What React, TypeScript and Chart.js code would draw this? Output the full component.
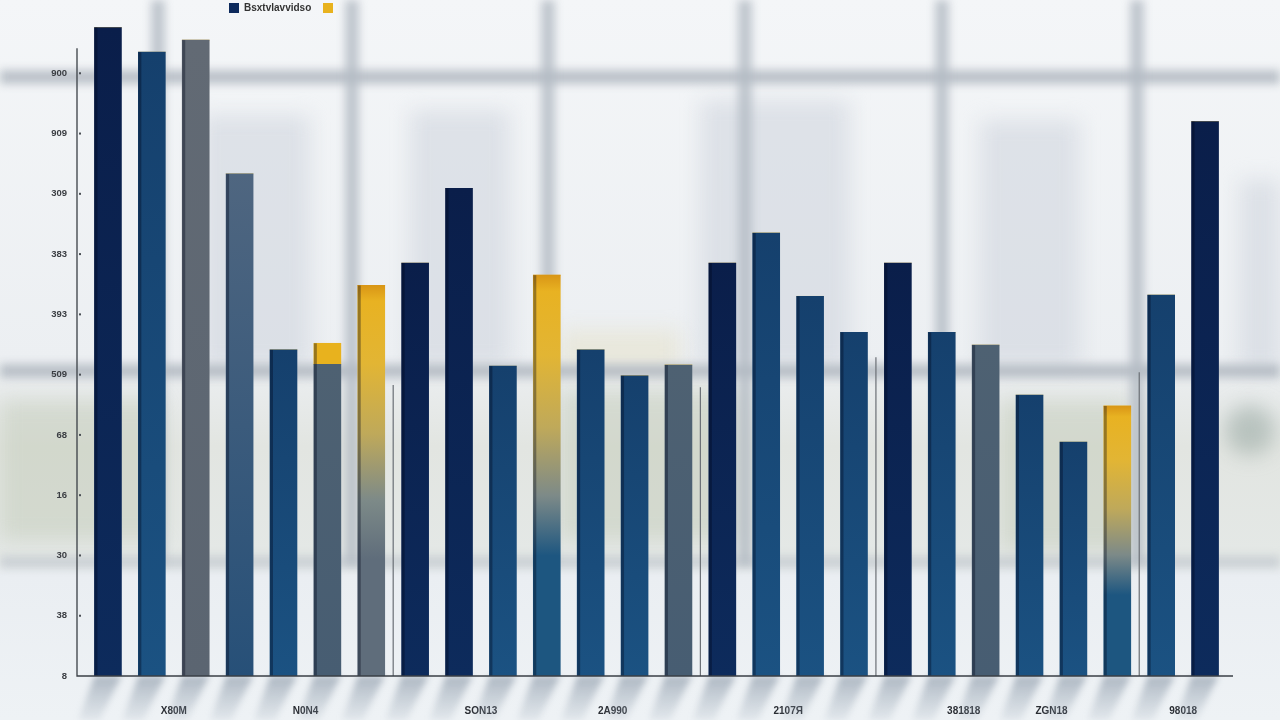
import React, { useEffect, useRef } from 'react';
import { Chart, registerables } from 'chart.js';

Chart.register(...registerables);

// ---------- data ----------
const xLabels = ['', 'X80M', '', '', 'N0N4', '', '', '', 'SON13', '', '', '2A990', '', '', '', '2107Я', '', '', '', '381818', '', 'ZGN18', '', '', '98018', ''];
const mainValues = [1076, 1035, 1055, 833, 541, 517, 648, 685, 809, 514, 665, 541, 498, 516, 685, 735, 630, 570, 685, 570, 549, 466, 388, 448, 632, 920];
const capValues = [0, 0, 0, 0, 0, 35, 0, 0, 0, 0, 0, 0, 0, 0, 0, 0, 0, 0, 0, 0, 0, 0, 0, 0, 0, 0];
const barKinds = ['navy', 'blue', 'gray', 'slate', 'blue', 'grayblue', 'goldGray', 'navy', 'navy', 'blue', 'goldBlue', 'blue', 'blue', 'grayblue', 'navy', 'blue', 'blue', 'blue', 'navy', 'blue', 'grayblue', 'blue', 'blue', 'goldBlue', 'blue', 'navy'];
const yTickLabels = ['8', '38', '30', '16', '68', '509', '393', '383', '309', '909', '900'];
const groupSizes = [7, 7, 4, 6, 2];
const dividerValues = [483, 479, 529, 504];
const legendLabels = ['Bsxtvlavvidso', ''];
const legendColors = ['#0d2a5c', '#e8b21e'];

// ---------- styles ----------
const kindColors: Record<string, [string, string]> = {
  navy: ['#0a1e4a', '#0d2b5c'],
  blue: ['#15406d', '#1b5282'],
  gray: ['#626a74', '#5b6571'],
  slate: ['#4f6680', '#275078'],
  grayblue: ['#4e6172', '#475d72'],
  goldGray: ['#e6b026', '#5f6d7b'],
  goldBlue: ['#e6b026', '#1d5680'],
};

const FONT = '"Liberation Sans", "DejaVu Sans", sans-serif';

function barColor(ctx: any) {
  const i = ctx.dataIndex;
  const kind = barKinds[i];
  const [c1, c2] = kindColors[kind];
  const chart = ctx.chart;
  const ys = chart.scales && chart.scales.y;
  if (!chart.chartArea || !ys) return c2;
  const top = ys.getPixelForValue(mainValues[i]);
  const bottom = ys.getPixelForValue(0);
  const g = chart.ctx.createLinearGradient(0, top, 0, bottom);
  if (kind.startsWith('gold')) {
    g.addColorStop(0, '#d99616');
    g.addColorStop(0.04, '#e8b222');
    g.addColorStop(0.2, '#e2b534');
    g.addColorStop(0.38, '#bfa95a');
    g.addColorStop(0.55, '#7d8a88');
    g.addColorStop(0.7, c2);
    g.addColorStop(1, c2);
  } else {
    g.addColorStop(0, c1);
    g.addColorStop(1, c2);
  }
  return g;
}

const backgroundPlugin = {
  id: 'officeBackground',
  beforeDraw(chart: any) {
    const { ctx, width, height } = chart;
    ctx.save();
    const base = ctx.createLinearGradient(0, 0, 0, height);
    base.addColorStop(0, '#f4f6f8');
    base.addColorStop(0.5, '#eceff2');
    base.addColorStop(0.62, '#e2e5e1');
    base.addColorStop(0.77, '#e4e8e6');
    base.addColorStop(0.8, '#eaeef2');
    base.addColorStop(1, '#eef2f5');
    ctx.fillStyle = base;
    ctx.fillRect(0, 0, width, height);

    ctx.filter = 'blur(10px)';
    // blurred buildings
    ctx.fillStyle = 'rgba(205,212,220,0.55)';
    ctx.fillRect(200, 115, 110, 250);
    ctx.fillRect(410, 110, 100, 255);
    ctx.fillRect(700, 100, 150, 265);
    ctx.fillRect(980, 120, 100, 245);
    ctx.fillRect(1240, 180, 40, 190);
    ctx.fillStyle = 'rgba(230,226,205,0.6)';
    ctx.fillRect(560, 330, 120, 40);
    // greenery lower band
    ctx.fillStyle = 'rgba(190,200,180,0.45)';
    ctx.fillRect(0, 400, 160, 140);
    ctx.fillRect(560, 390, 180, 150);
    ctx.fillRect(1000, 400, 130, 150);
    ctx.fillStyle = 'rgba(150,165,160,0.55)';
    ctx.beginPath();
    ctx.arc(1250, 430, 25, 0, Math.PI * 2);
    ctx.fill();

    // window frames
    ctx.filter = 'blur(4px)';
    ctx.fillStyle = 'rgba(175,183,191,0.8)';
    ctx.fillRect(0, 70, width, 14);
    ctx.fillRect(0, 364, width, 14);
    ctx.fillStyle = 'rgba(185,192,199,0.6)';
    ctx.fillRect(0, 556, width, 12);
    ctx.fillStyle = 'rgba(180,188,196,0.8)';
    [158, 352, 548, 745, 942, 1137].forEach((x) => {
      ctx.fillRect(x - 7, 0, 14, 565);
    });
    ctx.filter = 'none';
    ctx.restore();
  },
  beforeDatasetsDraw(chart: any) {
    const { ctx } = chart;
    const meta = chart.getDatasetMeta(0);
    const bottom = chart.scales.y.getPixelForValue(0);
    ctx.save();
    ctx.filter = 'blur(3px)';
    meta.data.forEach((bar: any) => {
      const w = bar.width;
      const x0 = bar.x - w / 2;
      const g = ctx.createLinearGradient(0, bottom, 0, chart.height);
      g.addColorStop(0, 'rgba(120,135,152,0.55)');
      g.addColorStop(1, 'rgba(150,165,180,0.15)');
      ctx.fillStyle = g;
      ctx.beginPath();
      ctx.moveTo(x0, bottom);
      ctx.lineTo(x0 + w, bottom);
      ctx.lineTo(x0 + w - 22, chart.height);
      ctx.lineTo(x0 - 16, chart.height);
      ctx.closePath();
      ctx.fill();
    });
    ctx.restore();
  },
  afterDatasetsDraw(chart: any) {
    const { ctx, chartArea } = chart;
    const ys = chart.scales.y;
    const bottom = ys.getPixelForValue(0);
    ctx.save();
    // dark left edge on bars
    [0, 1].forEach((d) => {
      const meta = chart.getDatasetMeta(d);
      meta.data.forEach((bar: any) => {
        const h = bar.base - bar.y;
        if (h <= 0) return;
        ctx.fillStyle = 'rgba(0,5,25,0.35)';
        ctx.fillRect(bar.x - bar.width / 2, bar.y, 3, h);
      });
    });
    // group dividers
    const meta = chart.getDatasetMeta(0);
    let idx = 0;
    ctx.strokeStyle = '#6a6f75';
    ctx.lineWidth = 1.2;
    groupSizes.slice(0, -1).forEach((size, g) => {
      idx += size;
      const x = (meta.data[idx - 1].x + meta.data[idx].x) / 2;
      ctx.beginPath();
      ctx.moveTo(x, ys.getPixelForValue(dividerValues[g]));
      ctx.lineTo(x, bottom);
      ctx.stroke();
    });
    // axis lines
    const topTick = ys.getPixelForValue((yTickLabels.length - 1) * 100);
    ctx.strokeStyle = '#3a3f45';
    ctx.lineWidth = 1.3;
    ctx.beginPath();
    ctx.moveTo(chartArea.left - 9, topTick - 25);
    ctx.lineTo(chartArea.left - 9, bottom);
    ctx.lineTo(chartArea.right + 6, bottom);
    ctx.stroke();
    // tiny tick marks
    ctx.fillStyle = '#4a4f55';
    yTickLabels.forEach((_, k) => {
      if (k === 0) return;
      ctx.fillRect(chartArea.left - 7, ys.getPixelForValue(k * 100) - 1, 2, 2);
    });
    ctx.restore();
  },
};

export default function App() {
  const canvasRef = useRef<HTMLCanvasElement>(null);

  useEffect(() => {
    if (!canvasRef.current) return;
    const chart = new Chart(canvasRef.current, {
      type: 'bar',
      data: {
        labels: xLabels,
        datasets: [
          {
            label: legendLabels[0],
            data: mainValues,
            backgroundColor: barColor as any,
            borderWidth: 0,
            barThickness: 27,
          },
          {
            label: legendLabels[1],
            data: capValues,
            backgroundColor: legendColors[1],
            borderWidth: 0,
            barThickness: 27,
          },
        ],
      },
      options: {
        animation: false,
        responsive: true,
        maintainAspectRatio: false,
        layout: { padding: { top: 13, right: 53, left: 0, bottom: 0 } },
        plugins: {
          legend: { display: false },
          tooltip: { enabled: false },
        },
        scales: {
          x: {
            stacked: true,
            grid: { display: false, drawTicks: false },
            border: { display: false },
            ticks: {
              autoSkip: false,
              maxRotation: 0,
              padding: 29,
              labelOffset: 22,
              color: '#2a2d33',
              font: { family: FONT, size: 10, weight: 'bold' },
            },
            afterFit: (s: any) => { s.height = 44; s.paddingLeft = 0; s.paddingRight = 0; },
          },
          y: {
            stacked: true,
            min: 0,
            max: 1100,
            grid: { display: false, drawTicks: false },
            border: { display: false },
            ticks: {
              stepSize: 100,
              padding: 19,
              color: '#3a3d42',
              font: { family: FONT, size: 9.5, weight: 'bold' },
              callback: (_v: any, i: number) => yTickLabels[i] ?? '',
            },
            afterFit: (s: any) => { s.width = 86; s.paddingTop = 0; s.paddingBottom = 0; },
          },
        },
      },
      plugins: [backgroundPlugin],
    });
    return () => chart.destroy();
  }, []);

  return (
    <div style={{ position: 'fixed', left: 0, top: 0, width: 1280, height: 720, overflow: 'hidden' }}>
      <canvas ref={canvasRef} />
      <div style={{ position: 'absolute', left: 229, top: 2, display: 'flex', alignItems: 'center', fontFamily: FONT, fontSize: 10, fontWeight: 'bold', color: '#333' }}>
        {legendLabels.map((l, i) => (
          <div key={i} style={{ display: 'flex', alignItems: 'center', marginRight: 12 }}>
            <span style={{ display: 'inline-block', width: 10, height: 10, background: legendColors[i], marginRight: l ? 5 : 0 }} />
            {l ? <span>{l}</span> : null}
          </div>
        ))}
      </div>
    </div>
  );
}
